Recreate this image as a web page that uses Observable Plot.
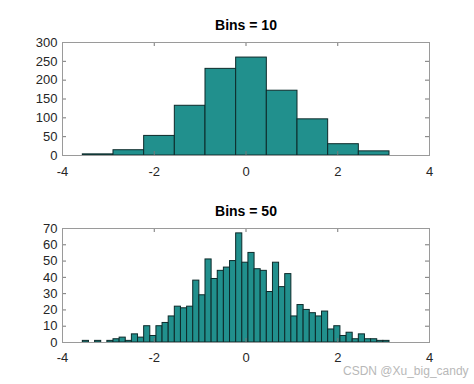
<!DOCTYPE html>
<html>
<head>
<meta charset="utf-8">
<script src="https://cdn.jsdelivr.net/npm/d3@7"></script>
<script src="https://cdn.jsdelivr.net/npm/@observablehq/plot@0.6"></script>
<style>
  html, body { margin: 0; padding: 0; background: #fff; }
  #chart { position: relative; width: 474px; height: 384px; }
  #chart svg { display: block; }
  #wm { position: absolute; left: 343px; top: 364px; font: 12px "Liberation Sans", Arial, sans-serif; color: #b8b8b8; white-space: nowrap; }
</style>
</head>
<body>
<div id="chart"></div>
<script>
// Data range of the samples (bin edges span this range)
const sampleMin = -3.557;
const sampleMax = 3.128;

// Counts, 10 bins
const counts10 = [3, 14, 52, 132, 230, 260, 172, 96, 30, 11];

// Counts, 50 bins
const counts50 = [
  1, 0, 1, 0, 1,
  2, 3, 1, 5, 3,
  10, 4, 10, 12, 16,
  22, 21, 22, 38, 29,
  51, 39, 44, 46, 50,
  67, 49, 55, 45, 44,
  31, 49, 34, 42, 16,
  23, 20, 18, 16, 19,
  8, 10, 4, 6, 2,
  5, 2, 2, 1, 1
];

const xTicks = [-4, -2, 0, 2, 4];
const yTicks10 = [0, 50, 100, 150, 200, 250, 300];
const yTicks50 = [0, 10, 20, 30, 40, 50, 60, 70];
const titles = ["Bins = 10", "Bins = 50"];

function toBins(counts) {
  const w = (sampleMax - sampleMin) / counts.length;
  return counts.map((c, i) => ({x1: sampleMin + i * w, x2: sampleMin + (i + 1) * w, count: c}))
               .filter(d => d.count > 0);
}

function histPlot(counts, yTicks, title, mt, mb, padX) {
  const W = 474, H = 192, ml = 62, mr = 45;
  const fw = W - ml - mr, fh = H - mt - mb, tl = 4;
  return Plot.plot({
    width: W, height: H,
    marginLeft: ml, marginRight: mr, marginTop: mt, marginBottom: mb,
    style: {fontFamily: "'Liberation Sans', Arial, sans-serif", fontSize: "13px", color: "#262626", background: "#fff"},
    x: {domain: [-4, 4]},
    y: {domain: [yTicks[0], yTicks[yTicks.length - 1]]},
    marks: [
      Plot.rectY(toBins(counts), {x1: "x1", x2: "x2", y: "count", fill: "#21908d", stroke: "#0d2a2a", strokeWidth: 1}),
      Plot.tickX(xTicks, {x: d => d, insetBottom: fh - tl, stroke: "#777"}),
      Plot.tickX(xTicks, {x: d => d, insetTop: fh - tl, stroke: "#777"}),
      Plot.tickY(yTicks, {y: d => d, insetRight: fw - tl, stroke: "#777"}),
      Plot.tickY(yTicks, {y: d => d, insetLeft: fw - tl, stroke: "#777"}),
      Plot.frame({stroke: "#9a9a9a"}),
      Plot.axisX(xTicks, {anchor: "bottom", tickSize: 0, tickPadding: padX, label: null, tickFormat: d => String(d)}),
      Plot.axisY(yTicks, {anchor: "left", tickSize: 0, tickPadding: 5, label: null, tickFormat: d => String(d)}),
      Plot.text([title], {frameAnchor: "top", dy: -17, lineAnchor: "middle", fontWeight: "bold", fontSize: 14, fill: "#000"})
    ]
  });
}

const root = document.getElementById("chart");
root.appendChild(histPlot(counts10, yTicks10, titles[0], 42, 37, 11));
root.appendChild(histPlot(counts50, yTicks50, titles[1], 36, 42, 10));
const wm = document.createElement("div");
wm.id = "wm";
wm.textContent = "CSDN @Xu_big_candy";
root.appendChild(wm);
</script>
</body>
</html>
